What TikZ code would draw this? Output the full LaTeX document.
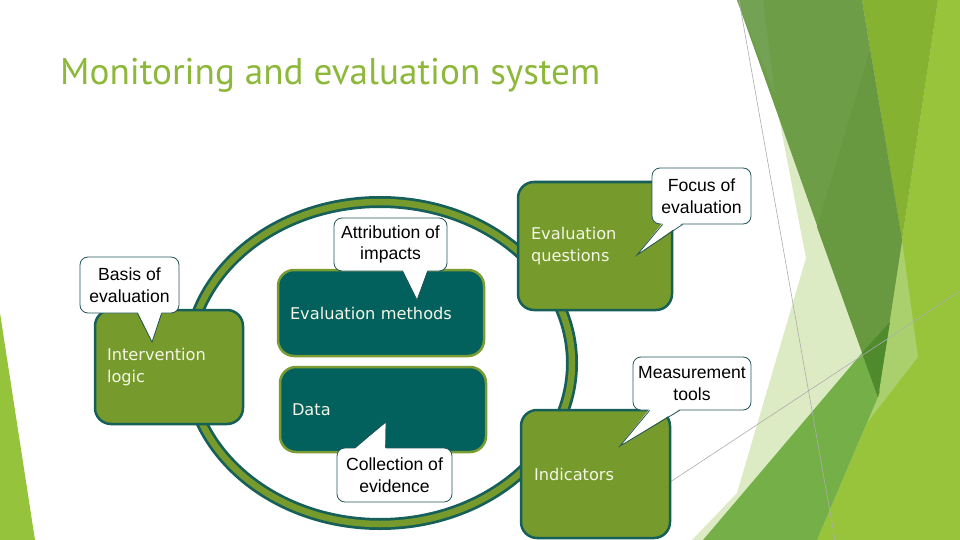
\documentclass[tikz,border=0pt]{standalone}
\usepackage{fontspec}
\setmainfont{Liberation Sans}
\newfontfamily\boxfont{DejaVu Sans}
\newfontfamily\titlefont{PT Sans}
\usetikzlibrary{calc}
\definecolor{cOlive}{HTML}{769A2B}
\definecolor{cTeal}{HTML}{02605D}
\definecolor{cDarkTeal}{HTML}{17605A}
\definecolor{cTealBorder}{HTML}{7A9C32}
\definecolor{cCallBorder}{HTML}{24565A}
\definecolor{cBoxText}{HTML}{F4F6E6}
\definecolor{cTitle}{HTML}{8DB83A}
\definecolor{cPale}{HTML}{DDEBC4}
\definecolor{cYG}{HTML}{97C43B}
\definecolor{cMedOl}{HTML}{86B231}
\definecolor{cLight}{HTML}{A9D06C}
\definecolor{cBand}{HTML}{74AF48}
\definecolor{cDark}{HTML}{6E9D48}
\definecolor{cDarker}{HTML}{68983F}
\definecolor{cDarkLt}{HTML}{74A254}
\definecolor{cDarkest}{HTML}{4F8A2C}
\definecolor{cSliver}{HTML}{96C33C}
\begin{document}
\begin{tikzpicture}[x=1pt,y=-1pt,
  boxbase/.style={rounded corners=16pt, line width=2.5pt, text=cBoxText,
    font=\boxfont\fontsize{16.2}{22}\selectfont, align=left,
    inner xsep=12pt, inner ysep=0pt},
  olivebox/.style={boxbase, draw=cDarkTeal, fill=cOlive},
  tealbox/.style={boxbase, draw=cTealBorder, fill=cTeal},
  callout/.style={draw=cCallBorder, line width=0.8pt, fill=white,
    rounded corners=8pt, align=center, inner sep=0pt,
    font=\fontsize{17.6}{21.5}\selectfont},
  pointerline/.style={draw=cCallBorder, line width=0.8pt, line join=miter},
  thinline/.style={draw=black!32, line width=0.6pt}
]
\useasboundingbox (0,0) rectangle (960,540);
\fill[white] (0,0) rectangle (960,540);

% decorative background facets
\fill[cPale] (779,118) -- (806,258) -- (737,493) -- (692,540) -- (960,540) -- (960,0) -- (862,0) -- cycle;
\fill[cYG] (902,240) -- (938,0) -- (960,0) -- (960,540) -- (817,540) -- (878,397) -- cycle;
\fill[cMedOl] (862,0) -- (938,0) -- (902,240) -- cycle;
\fill[cLight] (902,240) -- (918,357) -- (866,424) -- cycle;
\fill[cBand] (703,540) -- (817,540) -- (880,392) -- (862,353) -- cycle;
\fill[cDark] (737,0) -- (862,0) -- (902,240) -- (878,397) -- cycle;
\fill[cDarkLt] (737,0) -- (763,0) -- (775,95) -- cycle;
\fill[cDarker] (817,227) -- (870,50) -- (902,240) -- (878,397) -- cycle;
\fill[cDarkest] (862,353) -- (890,322) -- (878,397) -- cycle;
\fill[cSliver] (0,313) -- (0,540) -- (35,540) -- cycle;
\coordinate (l1a) at (739,0);
\coordinate (l1b) at (835,540);
\coordinate (l2a) at (655,492);
\coordinate (l2b) at (960,291);
\draw[thinline] (l1a) -- (l1b);
\draw[thinline] (l2a) -- (l2b);

% title
\node[anchor=west, text=cTitle, font=\titlefont\fontsize{37.2}{44}\selectfont, inner sep=0pt] (title) at (60,75) {Monitoring and evaluation system};

% ring
\coordinate (ringc) at (380,363);
\draw[cDarkTeal, line width=12pt] (ringc) ellipse [x radius=192pt, y radius=161pt];
\draw[cOlive, line width=6.5pt] (ringc) ellipse [x radius=192pt, y radius=161pt];

% boxes
\node[olivebox, minimum width=148pt, minimum height=114pt, text width=124pt] (il) at (169,367) {Intervention\\logic};
\node[olivebox, minimum width=154pt, minimum height=128pt, text width=128pt] (eq) at (595,246) {Evaluation\\questions};
\node[tealbox, minimum width=206pt, minimum height=86pt, text width=182pt] (em) at (381,313) {Evaluation methods};
\node[tealbox, minimum width=204pt, minimum height=85pt, text width=182pt] (data) at (383,409.5) {Data};
\node[olivebox, minimum width=149pt, minimum height=128pt, text width=123pt] (ind) at (595.5,474) {Indicators};

% callouts
\node[callout, minimum width=99pt, minimum height=56pt] (foc) at (701.5,196) {Focus of\\evaluation};
\node[callout, minimum width=113pt, minimum height=53pt] (att) at (390.5,244.5) {Attribution of\\impacts};
\node[callout, minimum width=99pt, minimum height=56pt] (bas) at (129.5,285) {Basis of\\evaluation};
\node[callout, minimum width=118pt, minimum height=53pt] (mea) at (692,383.5) {Measurement\\tools};
\node[callout, minimum width=115pt, minimum height=54pt] (col) at (394.5,475) {Collection of\\evidence};

% pointers
\coordinate (focT) at (637,255);
\fill[white] ($(foc.south west)+(11,-1.5)$) -- (focT) -- ($(foc.south west)+(31,-1.5)$) -- cycle;
\draw[pointerline] ($(foc.south west)+(11,0)$) -- (focT) -- ($(foc.south west)+(31,0)$);

\coordinate (attT) at (417,300);
\fill[white] ($(att.south west)+(69,-1.5)$) -- (attT) -- ($(att.south west)+(94,-1.5)$) -- cycle;
\draw[pointerline] ($(att.south west)+(69,0)$) -- (attT) -- ($(att.south west)+(94,0)$);

\coordinate (basT) at (152,342);
\fill[white] ($(bas.south west)+(58,-1.5)$) -- (basT) -- ($(bas.south west)+(82,-1.5)$) -- cycle;
\draw[pointerline] ($(bas.south west)+(58,0)$) -- (basT) -- ($(bas.south west)+(82,0)$);

\coordinate (meaT) at (620,446);
\fill[white] ($(mea.south west)+(17,-1.5)$) -- (meaT) -- ($(mea.south west)+(47,-1.5)$) -- cycle;
\draw[pointerline] ($(mea.south west)+(17,0)$) -- (meaT) -- ($(mea.south west)+(47,0)$);

\coordinate (colT) at (386,422);
\fill[white] ($(col.north west)+(18,1.5)$) -- (colT) -- ($(col.north west)+(49,1.5)$) -- cycle;
\draw[pointerline] ($(col.north west)+(18,0)$) -- (colT) -- ($(col.north west)+(49,0)$);
\end{tikzpicture}
\end{document}
